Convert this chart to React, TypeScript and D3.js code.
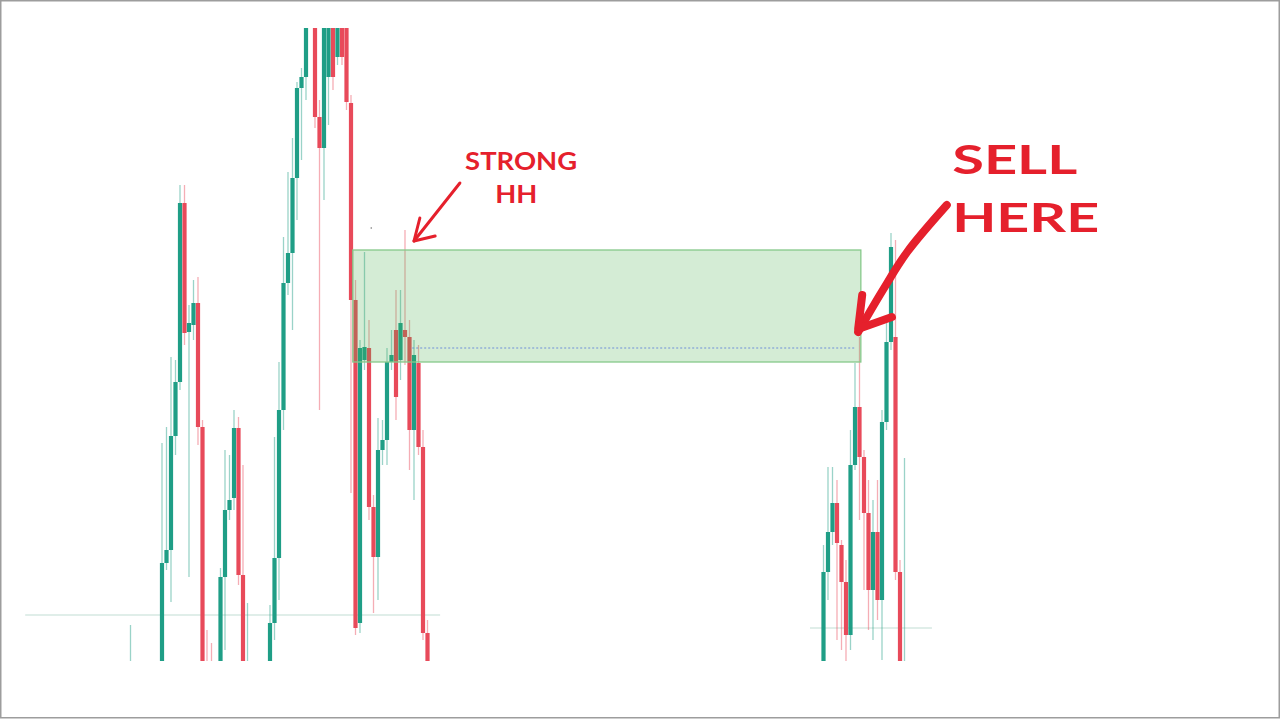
import React, { useRef, useEffect } from 'react';
import * as d3 from 'd3';

// bar index on the time axis
const bars = [
  6, 13, 14, 15, 16, 17, 18, 19, 20, 21, 22, 23, 24, 26, 27, 28, 29, 30, 31, 32,
  37, 38, 39, 40, 41, 42, 43, 44, 45, 47, 48, 49, 50, 51, 52, 53, 54, 55, 56, 57,
  58, 59, 60, 61, 62, 63, 64, 65, 66, 67, 68, 69, 70, 71, 72,
  160, 161, 162, 163, 164, 165, 166, 167, 168, 169, 170, 171, 172, 173, 174, 175, 176, 177, 178
];
const opens = [
  1014, 980, 1097, 1110, 1224, 1278, 1457, 1328, 1335, 1357, 1233, 1020, 1016, 985, 1083, 1150, 1162, 1232, 1085, 1020,
  985, 1037, 1102, 1250, 1377, 1407, 1482, 1572, 1583, 1640, 1543, 1512, 1583, 1640, 1603, 1640, 1640, 1557, 1360, 1037,
  1300, 1312, 1153, 1103, 1210, 1220, 1298, 1330, 1300, 1330, 1323, 1230, 1297, 1213, 1027,
  985, 1088, 1128, 1157, 1115, 1078, 1025, 1195, 1253, 1203, 1147, 1070, 1128, 1060, 1238, 1318, 1323, 1088, 1020
];
const highs = [
  1035, 1217, 1233, 1303, 1300, 1475, 1475, 1355, 1380, 1383, 1240, 1030, 1017, 1092, 1210, 1205, 1250, 1243, 1195, 1057,
  1055, 1223, 1298, 1423, 1488, 1522, 1578, 1592, 1650, 1650, 1560, 1650, 1650, 1650, 1650, 1650, 1650, 1565, 1380, 1320,
  1408, 1340, 1165, 1242, 1240, 1312, 1330, 1370, 1370, 1430, 1340, 1320, 1315, 1230, 1040,
  1115, 1193, 1193, 1180, 1120, 1100, 1230, 1297, 1323, 1210, 1180, 1160, 1180, 1250, 1340, 1427, 1420, 1100, 1202
];
const lows = [
  980, 980, 1090, 1058, 1205, 1270, 1315, 1083, 1320, 1215, 980, 980, 980, 980, 1010, 1140, 1150, 1075, 980, 998,
  980, 1020, 1060, 1230, 1365, 1330, 1440, 1500, 1560, 1532, 1250, 1460, 1535, 1570, 1595, 1595, 1550, 1167, 1025, 1027,
  1290, 1140, 1047, 1060, 1195, 1195, 1290, 1240, 1280, 1295, 1190, 1160, 1205, 1020, 980,
  980, 1060, 1115, 1020, 1010, 980, 1010, 1190, 1140, 1070, 1030, 1020, 1040, 1000, 1230, 1310, 1080, 980, 998
];
const closes = [
  1015, 1097, 1110, 1224, 1278, 1457, 1327, 1337, 1357, 1233, 985, 1019, 1015, 1083, 1150, 1160, 1232, 1085, 985, 1021,
  1037, 1102, 1250, 1377, 1407, 1482, 1572, 1583, 1640, 1543, 1512, 1640, 1640, 1583, 1640, 1603, 1558, 1360, 1032, 1312,
  1313, 1153, 1103, 1210, 1220, 1298, 1305, 1263, 1337, 1323, 1230, 1305, 1213, 1027, 985,
  1088, 1128, 1157, 1117, 1078, 1025, 1195, 1253, 1203, 1147, 1070, 1128, 1060, 1238, 1318, 1413, 1088, 985, 1021
];

// supply zone (bar index / price)
const zoneBars = [55.4, 168.3];
const zonePrices = [1298, 1410];
const midLineBars = [68.6, 167.2];
const midLinePrice = 1312;
const levelLines = [
  { from: -17.4, to: 74.8, price: 1045 },
  { from: 157, to: 184.1, price: 1032 }
];

// hand-drawn arrows (bar index, price)
const hhShaft: [number, number][] = [[79.2, 1477], [69, 1419]];
const hhHead: [number, number][] = [[70.3, 1442], [69, 1419], [73.7, 1424]];
const sellShaft: [number, number][] = [[187.4, 1455], [178.6, 1408], [173.2, 1370], [167.7, 1328]];
const sellHead: [number, number][] = [[168.6, 1365], [167.7, 1331], [175.2, 1343]];

const labels = [
  { text: 'STRONG', bar: 92.8, price: 1490, size: 24, len: 112, anchor: 'middle' },
  { text: 'HH', bar: 91.7, price: 1457, size: 24, len: 42, anchor: 'middle' },
  { text: 'SELL', bar: 188.6, price: 1486, size: 41, len: 125, anchor: 'start' },
  { text: 'HERE', bar: 188.6, price: 1428, size: 41, len: 147, anchor: 'start' }
];

const UP = '#1f9e86';
const DOWN = '#e84a5a';
const INK = '#e5202c';

const App: React.FC = () => {
  const ref = useRef<SVGSVGElement>(null);

  useEffect(() => {
    const width = 1280;
    const height = 720;
    const svg = d3.select(ref.current)
      .attr('width', width)
      .attr('height', height);
    svg.selectAll('*').remove();

    const x = d3.scaleLinear().domain([0, 260]).range([103.5, 103.5 + 4.5 * 260]);
    const y = d3.scaleLinear().domain([1000, 1632]).range([660, 28]);

    svg.append('rect').attr('width', width).attr('height', height).attr('fill', '#fff');

    svg.append('defs').append('clipPath').attr('id', 'plot')
      .append('rect').attr('x', 0).attr('y', 28).attr('width', width).attr('height', 633);

    const plot = svg.append('g').attr('clip-path', 'url(#plot)');

    // level lines
    levelLines.forEach(l => {
      plot.append('line')
        .attr('x1', x(l.from)).attr('x2', x(l.to))
        .attr('y1', y(l.price)).attr('y2', y(l.price))
        .attr('stroke', '#a9cfc3').attr('stroke-width', 1).attr('opacity', 0.7);
    });

    const data = bars.map((b, i) => ({ b, o: opens[i], h: highs[i], l: lows[i], c: closes[i] }));

    const candle = plot.selectAll('g.candle').data(data).enter().append('g');
    candle.append('line')
      .attr('x1', d => x(d.b)).attr('x2', d => x(d.b))
      .attr('y1', d => y(d.h)).attr('y2', d => y(d.l))
      .attr('stroke', d => (d.c >= d.o ? UP : DOWN))
      .attr('stroke-opacity', 0.45)
      .attr('stroke-width', 1.3);
    candle.filter(d => Math.abs(d.o - d.c) > 1).append('rect')
      .attr('x', d => x(d.b) - 2.1)
      .attr('width', 4.2)
      .attr('y', d => y(Math.max(d.o, d.c)))
      .attr('height', d => Math.abs(y(d.o) - y(d.c)))
      .attr('fill', d => (d.c >= d.o ? UP : DOWN));

    // zone
    svg.append('rect')
      .attr('x', x(zoneBars[0])).attr('width', x(zoneBars[1]) - x(zoneBars[0]))
      .attr('y', y(zonePrices[1])).attr('height', y(zonePrices[0]) - y(zonePrices[1]))
      .attr('fill', 'rgba(76,175,80,0.24)')
      .attr('stroke', '#86c98a').attr('stroke-width', 1.3);

    svg.append('line')
      .attr('x1', x(midLineBars[0])).attr('x2', x(midLineBars[1]))
      .attr('y1', y(midLinePrice)).attr('y2', y(midLinePrice))
      .attr('stroke', '#6f8fd8').attr('stroke-width', 1)
      .attr('stroke-dasharray', '2,2');

    // tiny stray dot
    svg.append('circle').attr('cx', x(59.5)).attr('cy', y(1432)).attr('r', 0.8).attr('fill', '#777');

    // arrows
    const pt = d3.line<[number, number]>().x(d => x(d[0])).y(d => y(d[1]));
    const curved = d3.line<[number, number]>().x(d => x(d[0])).y(d => y(d[1])).curve(d3.curveCatmullRom);

    svg.append('path').attr('d', pt(hhShaft)).attr('fill', 'none')
      .attr('stroke', INK).attr('stroke-width', 3).attr('stroke-linecap', 'round');
    svg.append('path').attr('d', pt(hhHead)).attr('fill', 'none')
      .attr('stroke', INK).attr('stroke-width', 3).attr('stroke-linecap', 'round').attr('stroke-linejoin', 'round');

    svg.append('path').attr('d', curved(sellShaft)).attr('fill', 'none')
      .attr('stroke', INK).attr('stroke-width', 8).attr('stroke-linecap', 'round');
    svg.append('path').attr('d', pt(sellHead)).attr('fill', 'none')
      .attr('stroke', INK).attr('stroke-width', 8).attr('stroke-linecap', 'round').attr('stroke-linejoin', 'round');

    // labels
    labels.forEach(t => {
      svg.append('text')
        .attr('x', x(t.bar)).attr('y', y(t.price))
        .attr('text-anchor', t.anchor)
        .attr('font-family', 'Lato, "Open Sans", sans-serif')
        .attr('font-weight', 700)
        .attr('font-size', t.size)
        .attr('textLength', t.len)
        .attr('lengthAdjust', 'spacingAndGlyphs')
        .attr('fill', INK)
        .text(t.text);
    });

    // image frame
    svg.append('rect')
      .attr('x', 0.75).attr('y', 0.75).attr('width', width - 1.5).attr('height', height - 3)
      .attr('fill', 'none').attr('stroke', '#9d9d9d').attr('stroke-width', 1.5);
  }, []);

  return (
    <div style={{ position: 'fixed', top: 0, left: 0 }}>
      <svg ref={ref}></svg>
    </div>
  );
};

export default App;
